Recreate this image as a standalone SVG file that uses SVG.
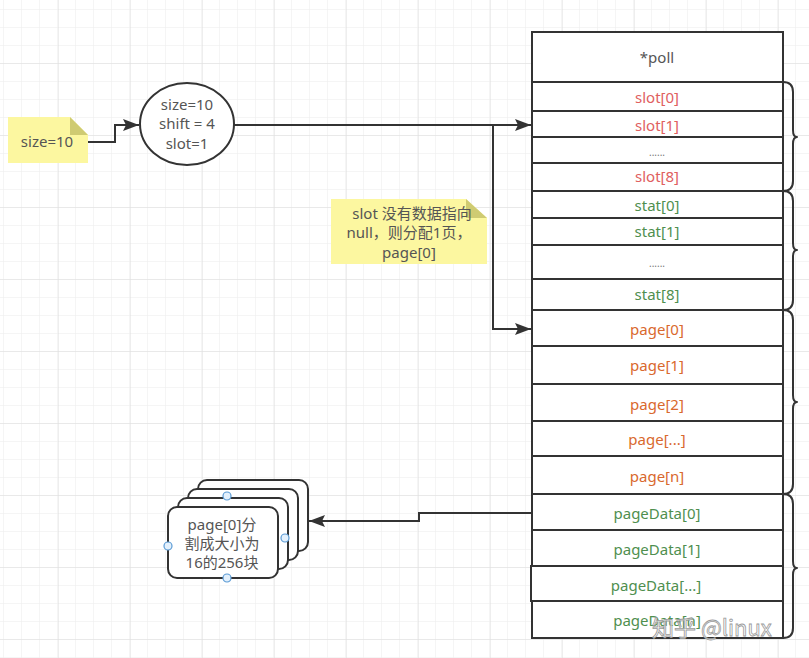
<svg xmlns="http://www.w3.org/2000/svg" width="809" height="658" viewBox="0 0 809 658">
<defs>
<pattern id="gridMinor" x="3" y="9" width="18" height="18" patternUnits="userSpaceOnUse">
<path d="M0,0 V18 M0,0 H18" fill="none" stroke="#ececec" stroke-width="1"/>
</pattern>
<pattern id="gridMajor" x="58" y="63" width="72" height="72" patternUnits="userSpaceOnUse">
<path d="M0,0 V72 M0,0 H72" fill="none" stroke="#dedede" stroke-width="1"/>
</pattern>
<marker id="arr" viewBox="0 0 10 10" refX="10" refY="5" markerWidth="8" markerHeight="7" markerUnits="userSpaceOnUse" orient="auto" overflow="visible">
<path d="M0,0 L10,5 L0,10 L2.5,5 Z" fill="#333"/>
</marker>
<marker id="arrow" viewBox="0 0 16 12" refX="16" refY="6" markerWidth="16" markerHeight="12" markerUnits="userSpaceOnUse" orient="auto">
<path d="M0,0 L16,6 L0,12 L3,6 Z" fill="#333"/>
</marker>
</defs>
<style>
.t{font-family:"Noto Sans","Noto Sans CJK SC",sans-serif;font-size:15px;text-anchor:middle;dominant-baseline:central}
.g{fill:#555}
.red{fill:#e0605f}
.grn{fill:#4f8f4f}
.org{fill:#d9692e}
.dot{font-size:10px;fill:#777}
.row{fill:#fff;stroke:#333;stroke-width:2}
.line{fill:none;stroke:#333;stroke-width:2}
.brace{fill:none;stroke:#333;stroke-width:2;stroke-linejoin:round}
.note{fill:#fcf7a0}
.fold{fill:#cfcb72}
.card{fill:#fff;stroke:#333;stroke-width:2}
.handle{fill:#e3f0fc;stroke:#5b9bd5;stroke-width:1.2}
</style>
<rect width="809" height="658" fill="#fff"/>
<rect width="809" height="658" fill="url(#gridMinor)"/>
<rect width="809" height="658" fill="url(#gridMajor)"/>

<g id="connectors">
<path class="line" d="M88,142 H115 V125 H139" marker-end="url(#arrow)"/>
<path class="line" d="M234,125 H531" marker-end="url(#arrow)"/>
<path class="line" d="M493,125 V329 H531" marker-end="url(#arrow)"/>
<path class="line" d="M532,513 H419 V521 H309" marker-end="url(#arrow)"/>
</g>

<g id="note-size">
<path class="note" d="M8,117 H70 L88,135 V163 H8 Z"/>
<path class="fold" d="M70,117 L88,135 H70 Z"/>
<text class="t g" x="47" y="141">size=10</text>
</g>

<g id="ellipse-params">
<ellipse cx="187" cy="124" rx="47" ry="41" fill="#fff" stroke="#333" stroke-width="2"/>
<text class="t g" x="187" y="104">size=10</text>
<text class="t g" x="187" y="123">shift = 4</text>
<text class="t g" x="187" y="143">slot=1</text>
</g>

<g id="note-slot">
<path class="note" d="M331,199 H466 L487,218 V264 H331 Z"/>
<path class="fold" d="M466,199 L487,218 H466 Z"/>
<text class="t g" x="412" y="213">slot 没有数据指向</text>
<text class="t g" x="409" y="232">null，则分配1页，</text>
<text class="t g" x="409" y="252">page[0]</text>
</g>

<g id="column">
<g id="poll"><rect class="row" x="532" y="32" width="251" height="50"/><text class="t g" x="657" y="57">*poll</text></g>
<g id="slot0"><rect class="row" x="532" y="82" width="251" height="29"/><text class="t red" x="657" y="97">slot[0]</text></g>
<g id="slot1"><rect class="row" x="532" y="111" width="251" height="26"/><text class="t red" x="657" y="125">slot[1]</text></g>
<g id="slotdots"><rect class="row" x="532" y="137" width="251" height="26"/><text class="t red dot" x="657" y="152">......</text></g>
<g id="slot8"><rect class="row" x="532" y="163" width="251" height="28"/><text class="t red" x="657" y="176">slot[8]</text></g>
<g id="stat0"><rect class="row" x="532" y="191" width="251" height="27"/><text class="t grn" x="657" y="205">stat[0]</text></g>
<g id="stat1"><rect class="row" x="532" y="218" width="251" height="27"/><text class="t grn" x="657" y="231">stat[1]</text></g>
<g id="statdots"><rect class="row" x="532" y="245" width="251" height="34"/><text class="t dot" x="657" y="263">......</text></g>
<g id="stat8"><rect class="row" x="532" y="279" width="251" height="31"/><text class="t grn" x="657" y="294">stat[8]</text></g>
<g id="page0"><rect class="row" x="532" y="310" width="251" height="36"/><text class="t org" x="657" y="329">page[0]</text></g>
<g id="page1"><rect class="row" x="532" y="346" width="251" height="38"/><text class="t org" x="657" y="365">page[1]</text></g>
<g id="page2"><rect class="row" x="532" y="384" width="251" height="37"/><text class="t org" x="657" y="404">page[2]</text></g>
<g id="pagedots"><rect class="row" x="532" y="421" width="251" height="35"/><text class="t org" x="657" y="439">page[...]</text></g>
<g id="pagen"><rect class="row" x="532" y="456" width="251" height="38"/><text class="t org" x="657" y="476">page[n]</text></g>
<g id="pageData0"><rect class="row" x="532" y="494" width="251" height="36"/><text class="t grn" x="657" y="513">pageData[0]</text></g>
<g id="pageData1"><rect class="row" x="532" y="530" width="251" height="36"/><text class="t grn" x="657" y="549">pageData[1]</text></g>
<g id="pageDatadots"><rect class="row" x="531" y="566" width="252" height="35"/><text class="t grn" x="656" y="585">pageData[...]</text></g>
<g id="pageDatan"><rect class="row" x="532" y="601" width="251" height="37"/><text class="t grn" x="657" y="620">pageData[n]</text></g>
</g>

<g id="braces">
<path class="brace" d="M783,82 Q793,82 793,92 V130 Q793,137 797,137 Q793,137 793,144 V181 Q793,191 783,191"/>
<path class="brace" d="M783,191 Q793,191 793,201 V243 Q793,250 797,250 Q793,250 793,257 V300 Q793,310 783,310"/>
<path class="brace" d="M783,310 Q793,310 793,320 V395 Q793,402 797,402 Q793,402 793,409 V484 Q793,494 783,494"/>
<path class="brace" d="M783,494 Q793,494 793,504 V561 Q793,568 797,568 Q793,568 793,575 V628 Q793,638 783,638"/>
</g>

<g id="stack">
<rect class="card" x="198" y="480" width="110" height="71" rx="9"/>
<rect class="card" x="188" y="489" width="110" height="71" rx="9"/>
<rect class="card" x="178" y="498" width="110" height="71" rx="9"/>
<rect class="card" x="168" y="507" width="110" height="71" rx="9"/>
<text class="t g" x="222" y="524">page[0]分</text>
<text class="t g" x="222" y="543">割成大小为</text>
<text class="t g" x="222" y="562">16的256块</text>
<circle class="handle" cx="227" cy="496" r="4"/>
<circle class="handle" cx="168" cy="546" r="4"/>
<circle class="handle" cx="285" cy="538" r="4"/>
<circle class="handle" cx="227" cy="578" r="4"/>
</g>

<text x="652" y="636" font-family="'Noto Sans CJK SC','Noto Sans',sans-serif" font-size="22" fill="#fff" fill-opacity="0.7" stroke="#9a9a9a" stroke-width="0.8">知乎 @linux</text>
</svg>
